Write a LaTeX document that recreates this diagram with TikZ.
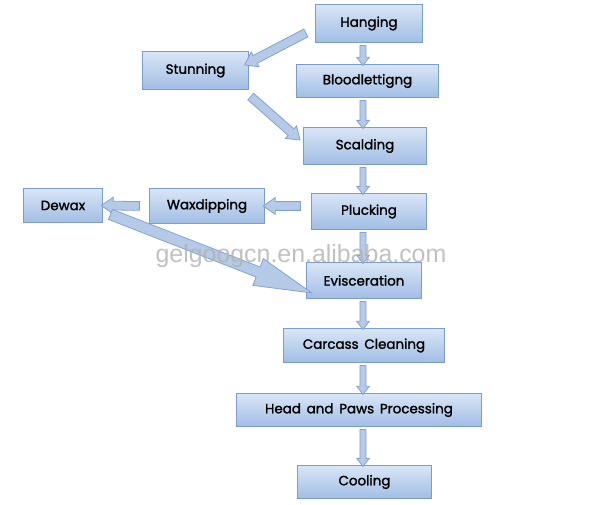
\documentclass[tikz,border=0pt]{standalone}
\usepackage{fontspec}
\setmainfont{Poppins}
\newfontfamily\stepFace{Poppins}[FakeBold=1.6, WordSpace=1.6]
\newfontfamily\markFont{Liberation Sans}
\usetikzlibrary{calc,shapes.arrows}

\definecolor{boxTop}{HTML}{DAE6F6}
\definecolor{boxBottom}{HTML}{A0BDE5}
\definecolor{boxLine}{HTML}{7A9CCE}
\definecolor{arrowFill}{HTML}{B5CAE6}
\definecolor{arrowLine}{HTML}{82A3D2}

\newcommand{\stepFont}{\stepFace\fontsize{13.5}{15}\selectfont}
\newcommand{\markText}{gelgoogcn.en.alibaba.com}
\newcommand{\flowArrow}[3]{%
  \path let \p1=($#3-#2$), \n1={veclen(\x1,\y1)} in #2 -- #3
    node[midway, sloped, allow upside down, flowarrow, #1, minimum height=\n1] {};}

\begin{document}
\begin{tikzpicture}[x=1bp, y=-1bp,
    stepbox/.style={draw=boxLine, line width=1.1pt, top color=boxTop, bottom color=boxBottom,
      minimum height=36, inner sep=0, font=\stepFont},
    flowarrow/.style={single arrow, draw=arrowLine, fill=arrowFill, line width=0.8pt,
      inner xsep=0, inner ysep=2.7, outer sep=0, single arrow head extend=3.2,
      single arrow tip angle=75, single arrow head indent=0},
    sidearrow/.style={inner ysep=4, single arrow head extend=4, single arrow tip angle=70},
    longarrow/.style={inner ysep=5, single arrow head extend=9, single arrow tip angle=28}]

    \useasboundingbox (0,0) rectangle (598,505);

    % main line
    \node[stepbox, minimum width=108, minimum height=39] (hang) at (369,23.5) {Hanging};
    \node[stepbox, minimum width=143, minimum height=34] (blood) at (367.5,81) {Bloodlettigng};
    \node[stepbox, minimum width=124, minimum height=38] (scald) at (365,146) {Scalding};
    \node[stepbox, minimum width=116, minimum height=37] (pluck) at (369,211.5) {Plucking};
    \node[stepbox, minimum width=116, minimum height=37] (evis) at (364,280.5) {Evisceration};
    \node[stepbox, minimum width=162, minimum height=35] (carc) at (364,345.5) {Carcass Cleaning};
    \node[stepbox, minimum width=246, minimum height=34] (head) at (359,410) {Head and Paws Processing};
    \node[stepbox, minimum width=135, minimum height=34] (cool) at (364.5,482) {Cooling};

    % side steps
    \node[stepbox, minimum width=107, minimum height=39] (stun) at (195.5,70.5) {Stunning};
    \node[stepbox, minimum width=116, minimum height=36] (waxd) at (207,206) {Waxdipping};
    \node[stepbox, minimum width=80, minimum height=35] (dewax) at (63,205.5) {Dewax};

    % arrows down the main line
    \coordinate (axis) at (363,0);
    \flowArrow{}{(hang.south -| axis)}{(blood.north -| axis)}
    \flowArrow{}{(blood.south -| axis)}{(scald.north -| axis)}
    \flowArrow{}{(scald.south -| axis)}{(pluck.north -| axis)}
    \flowArrow{}{(pluck.south -| axis)}{(evis.north -| axis)}
    \flowArrow{}{(evis.south -| axis)}{(carc.north -| axis)}
    \flowArrow{}{(carc.south -| axis)}{(head.north -| axis)}
    \flowArrow{}{(head.south -| axis)}{(cool.north -| axis)}

    % arrows to the side steps
    \flowArrow{sidearrow}{([shift={(-6,8)}]hang.west)}{([shift={(-2,-7)}]stun.east)}
    \flowArrow{sidearrow}{([shift={(-1,4)}]stun.south east)}{([shift={(-5,-8)}]scald.west)}
    \flowArrow{sidearrow}{($(pluck.west |- waxd.east)+(-7,0)$)}{([xshift=1]waxd.east)}
    \flowArrow{sidearrow}{([xshift=-6]waxd.west)}{([xshift=1]dewax.east)}
    \flowArrow{longarrow}{([shift={(-3,5)}]dewax.east)}{([shift={(-4,8.5)}]evis.west)}

    % watermark
    \node[anchor=base, text=black!30, opacity=0.8, font=\markFont\fontsize{25}{28}\selectfont, inner sep=0] (mark) at (301,262) {\markText};

\end{tikzpicture}
\end{document}
